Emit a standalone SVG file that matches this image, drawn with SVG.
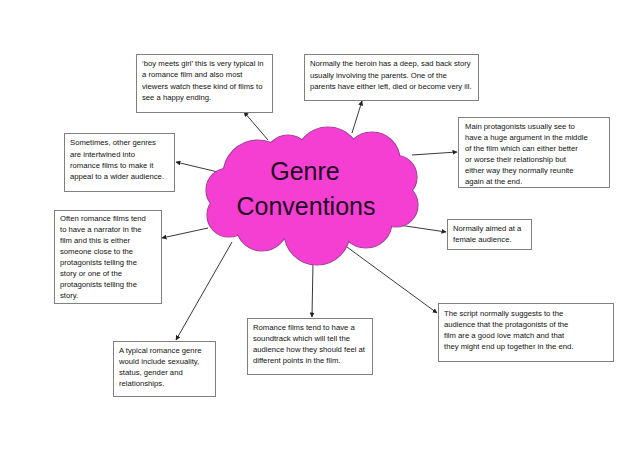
<svg xmlns="http://www.w3.org/2000/svg" width="640" height="453" viewBox="0 0 640 453">
<defs>
<style>
.box{fill:#fff;stroke:#808080;stroke-width:1}
.t{font-family:"Liberation Sans",Arial,sans-serif;font-size:7.7px;fill:#111}
.c{stroke:#222;stroke-width:0.9;fill:none;marker-end:url(#ah)}
.cl{fill:#f53fd2}
.clo{fill:#f53fd2;stroke:#a0409a;stroke-width:1.2}
.big{font-family:"Liberation Sans",Arial,sans-serif;font-size:25px;fill:#22061f;text-anchor:middle}
</style>
<marker id="ah" viewBox="0 0 10 10" refX="9" refY="5" markerWidth="5" markerHeight="5" orient="auto" markerUnits="userSpaceOnUse">
<path d="M0,0 L10,5 L0,10 z" fill="#222"/>
</marker>
</defs>
<rect width="640" height="453" fill="#fff"/>
<g id="connectors">
<line class="c" x1="268" y1="140" x2="244" y2="112"/>
<line class="c" x1="352" y1="133" x2="362" y2="101"/>
<line class="c" x1="222" y1="173" x2="176" y2="162"/>
<line class="c" x1="412" y1="155" x2="457" y2="152"/>
<line class="c" x1="208" y1="228" x2="162" y2="238"/>
<line class="c" x1="392" y1="224" x2="446" y2="232"/>
<line class="c" x1="347" y1="247" x2="437" y2="313"/>
<line class="c" x1="313" y1="262" x2="312" y2="317"/>
<line class="c" x1="232" y1="242" x2="176" y2="340"/>
</g>
<g id="cloud">
<g>
<circle class="clo" cx="258" cy="175" r="35"/>
<circle class="clo" cx="288" cy="158" r="23"/>
<circle class="clo" cx="328" cy="160" r="33"/>
<circle class="clo" cx="372" cy="160" r="28"/>
<circle class="clo" cx="395" cy="177" r="22"/>
<circle class="clo" cx="396" cy="205" r="22"/>
<circle class="clo" cx="228" cy="190" r="22"/>
<circle class="clo" cx="229" cy="215" r="22"/>
<circle class="clo" cx="262" cy="225" r="26"/>
<circle class="clo" cx="317" cy="232" r="33"/>
<circle class="clo" cx="366" cy="222" r="26"/>
</g>
<g>
<circle class="cl" cx="258" cy="175" r="34.4"/>
<circle class="cl" cx="288" cy="158" r="22.4"/>
<circle class="cl" cx="328" cy="160" r="32.4"/>
<circle class="cl" cx="372" cy="160" r="27.4"/>
<circle class="cl" cx="395" cy="177" r="21.4"/>
<circle class="cl" cx="396" cy="205" r="21.4"/>
<circle class="cl" cx="228" cy="190" r="21.4"/>
<circle class="cl" cx="229" cy="215" r="21.4"/>
<circle class="cl" cx="262" cy="225" r="25.4"/>
<circle class="cl" cx="317" cy="232" r="32.4"/>
<circle class="cl" cx="366" cy="222" r="25.4"/>
<ellipse class="cl" cx="310" cy="195" rx="85" ry="45"/>
</g>
<text class="big" x="305" y="180">Genre</text>
<text class="big" x="306" y="215">Conventions</text>
</g>
<g id="n1">
<rect class="box" x="136.5" y="54.5" width="136" height="58"/>
<text class="t" x="142" y="66">‘boy meets girl’ this is very typical in</text>
<text class="t" x="142" y="77">a romance film and also most</text>
<text class="t" x="142" y="89">viewers watch these kind of films to</text>
<text class="t" x="142" y="100">see a happy ending.</text>
</g>
<g id="n2">
<rect class="box" x="304.5" y="54.5" width="174" height="46"/>
<text class="t" x="310" y="66">Normally the heroin has a deep, sad back story</text>
<text class="t" x="310" y="78">usually involving the parents. One of the</text>
<text class="t" x="310" y="89">parents have either left, died or become very ill.</text>
</g>
<g id="n3">
<rect class="box" x="64.5" y="133.5" width="110" height="58"/>
<text class="t" x="70" y="145">Sometimes, other genres</text>
<text class="t" x="70" y="157">are intertwined into</text>
<text class="t" x="70" y="168">romance films to make it</text>
<text class="t" x="70" y="179">appeal to a wider audience.</text>
</g>
<g id="n4">
<rect class="box" x="458.5" y="117.5" width="151" height="70"/>
<text class="t" x="465" y="129">Main protagonists usually see to</text>
<text class="t" x="465" y="140">have a huge argument in the middle</text>
<text class="t" x="465" y="151">of the film which can either better</text>
<text class="t" x="465" y="162">or worse their relationship but</text>
<text class="t" x="465" y="173">either way they normally reunite</text>
<text class="t" x="465" y="184">again at the end.</text>
</g>
<g id="n5">
<rect class="box" x="54.5" y="210.5" width="107" height="93"/>
<text class="t" x="60" y="221">Often romance films tend</text>
<text class="t" x="60" y="232">to have a narrator in the</text>
<text class="t" x="60" y="243">film and this is either</text>
<text class="t" x="60" y="254">someone close to the</text>
<text class="t" x="60" y="265">protagonists telling the</text>
<text class="t" x="60" y="276">story or one of the</text>
<text class="t" x="60" y="287">protagonists telling the</text>
<text class="t" x="60" y="298">story.</text>
</g>
<g id="n6">
<rect class="box" x="447.5" y="219.5" width="84" height="30"/>
<text class="t" x="453" y="231">Normally aimed at a</text>
<text class="t" x="453" y="242">female audience.</text>
</g>
<g id="n7">
<rect class="box" x="438.5" y="303.5" width="175" height="58"/>
<text class="t" x="444" y="316">The script normally suggests to the</text>
<text class="t" x="444" y="327">audience that the protagonists of the</text>
<text class="t" x="444" y="338">film are a good love match and that</text>
<text class="t" x="444" y="349">they might end up together in the end.</text>
</g>
<g id="n8">
<rect class="box" x="247.5" y="318.5" width="125" height="56"/>
<text class="t" x="253" y="330">Romance films tend to have a</text>
<text class="t" x="253" y="341">soundtrack which will tell the</text>
<text class="t" x="253" y="352">audience how they should feel at</text>
<text class="t" x="253" y="363">different points in the film.</text>
</g>
<g id="n9">
<rect class="box" x="113.5" y="341.5" width="102" height="55"/>
<text class="t" x="119" y="353">A typical romance genre</text>
<text class="t" x="119" y="364">would include sexuality,</text>
<text class="t" x="119" y="375">status, gender and</text>
<text class="t" x="119" y="386">relationships.</text>
</g>
</svg>
